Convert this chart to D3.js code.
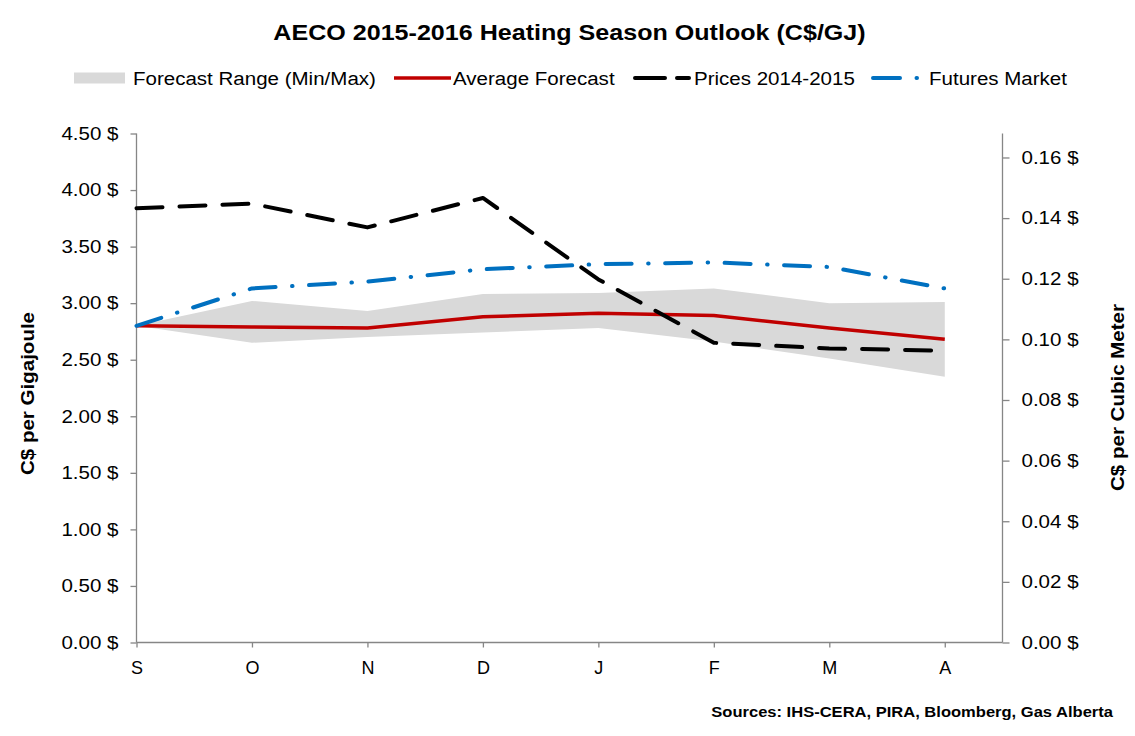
<!DOCTYPE html>
<html>
<head>
<meta charset="utf-8">
<script src="https://cdn.jsdelivr.net/npm/d3@7/dist/d3.min.js"></script>
<style>
  html, body { margin: 0; padding: 0; background: #fff; }
  svg { display: block; font-family: "Liberation Sans", Arial, sans-serif; }
</style>
</head>
<body>
<svg id="chart" width="1135" height="736"></svg>
<script>
// ---- data ----
const months = ["S", "O", "N", "D", "J", "F", "M", "A"];
const rangeMin = [2.80, 2.65, 2.70, 2.74, 2.78, 2.66, 2.51, 2.35];
const rangeMax = [2.80, 3.02, 2.93, 3.08, 3.09, 3.13, 3.00, 3.01];
const avgForecast = [2.80, 2.79, 2.78, 2.88, 2.91, 2.89, 2.78, 2.68];
const prices1415 = [3.84, 3.88, 3.67, 3.93, 3.21, 2.65, 2.60, 2.58];
const futures = [2.80, 3.13, 3.19, 3.30, 3.345, 3.36, 3.32, 3.13];
const leftTicks = [0, 0.5, 1, 1.5, 2, 2.5, 3, 3.5, 4, 4.5];
const rightTicks = [0, 0.02, 0.04, 0.06, 0.08, 0.10, 0.12, 0.14, 0.16];
const legendLabels = ["Forecast Range (Min/Max)", "Average Forecast", "Prices 2014-2015", "Futures Market"];
const titleText = "AECO 2015-2016 Heating Season Outlook (C$/GJ)";
const leftTitle = "C$ per Gigajoule";
const rightTitle = "C$ per Cubic Meter";
const sourceText = "Sources: IHS-CERA, PIRA, Bloomberg, Gas Alberta";

// ---- layout ----
const X0 = 136.5, X1 = 1002.5, Y0 = 642.5, Y1 = 133.5;
const STRETCH = 1.14;
const svg = d3.select("#chart");

function stretch(sel, k) {
  sel.each(function () {
    const L = this.getComputedTextLength();
    this.setAttribute("textLength", L * k);
    this.setAttribute("lengthAdjust", "spacingAndGlyphs");
  });
  return sel;
}

const x = d3.scaleLinear().domain([0, 7.5]).range([X0, X1]);
const y = d3.scaleLinear().domain([0, 4.5]).range([Y0, Y1]);
const y2 = d3.scaleLinear().domain([0, 4.5 / 26.8]).range([Y0, Y1]);

// band
const idx = months.map((m, i) => i);
svg.append("path")
  .datum(idx)
  .attr("fill", "#d9d9d9")
  .attr("d", d3.area().x(i => x(i)).y0(i => y(rangeMin[i])).y1(i => y(rangeMax[i])));

// axes
const axisColor = "#868686";
const gL = svg.append("g").attr("transform", `translate(${X0},0)`)
  .call(d3.axisLeft(y).tickValues(leftTicks).tickSize(6).tickPadding(12).tickFormat(v => d3.format(".2f")(v) + " $"));
const gR = svg.append("g").attr("transform", `translate(${X1},0)`)
  .call(d3.axisRight(y2).tickValues(rightTicks).tickSize(7).tickPadding(12).tickFormat(v => d3.format(".2f")(v) + " $"));
const gB = svg.append("g").attr("transform", `translate(0,${Y0})`)
  .call(d3.axisBottom(x).tickValues(idx).tickSize(5).tickPadding(14).tickFormat(i => months[i]));
[gL, gR, gB].forEach(g => {
  g.select(".domain").attr("stroke", axisColor).attr("stroke-width", 1.3);
  g.selectAll(".tick line").attr("stroke", axisColor).attr("stroke-width", 1.3);
  g.selectAll("text").attr("font-size", 18).attr("fill", "#000")
    .attr("font-family", '"Liberation Sans", Arial, sans-serif');
});
gL.select(".domain").attr("d", `M-6,${Y1}H0V${Y0}H-6`);
gL.select(".domain").attr("d", `M0,${Y1}V${Y0}`);
gR.select(".domain").attr("d", `M0,${Y1}V${Y0}`);
gB.select(".domain").attr("d", `M${X0},0H${X1}`);
stretch(gL.selectAll("text"), STRETCH);
stretch(gR.selectAll("text"), STRETCH);

// lines
const line = arr => d3.line().x(i => x(i)).y(i => y(arr[i]));
svg.append("path").datum(idx).attr("d", line(avgForecast))
  .attr("fill", "none").attr("stroke", "#c00000").attr("stroke-width", 3.5)
  .attr("stroke-linejoin", "round");
svg.append("path").datum(idx).attr("d", line(prices1415))
  .attr("fill", "none").attr("stroke", "#000").attr("stroke-width", 4)
  .attr("stroke-linejoin", "round").attr("stroke-linecap", "round")
  .attr("stroke-dasharray", "26,17");
svg.append("path").datum(idx).attr("d", line(futures))
  .attr("fill", "none").attr("stroke", "#0070c0").attr("stroke-width", 4)
  .attr("stroke-linejoin", "round").attr("stroke-linecap", "round")
  .attr("stroke-dasharray", "26,16.5,0.5,16.5");

// title
stretch(svg.append("text").attr("x", 569.5).attr("y", 40).attr("text-anchor", "middle")
  .attr("font-size", 22).attr("font-weight", "bold").text(titleText), STRETCH);

// axis titles
stretch(svg.append("text").attr("transform", "translate(34,393.5) rotate(-90)")
  .attr("text-anchor", "middle").attr("font-size", 18).attr("font-weight", "bold").text(leftTitle), STRETCH);
stretch(svg.append("text").attr("transform", "translate(1124,397.5) rotate(-90)")
  .attr("text-anchor", "middle").attr("font-size", 18).attr("font-weight", "bold").text(rightTitle), STRETCH);

// sources
stretch(svg.append("text").attr("x", 1113).attr("y", 717).attr("text-anchor", "end")
  .attr("font-size", 14.5).attr("font-weight", "bold").text(sourceText), STRETCH);

// legend
const LY = 78;
const lg = svg.append("g");
lg.append("rect").attr("x", 74).attr("y", LY - 5.5).attr("width", 51).attr("height", 11).attr("fill", "#d9d9d9");
lg.append("line").attr("x1", 394).attr("x2", 451).attr("y1", LY).attr("y2", LY)
  .attr("stroke", "#c00000").attr("stroke-width", 3.5);
lg.append("line").attr("x1", 635).attr("x2", 689).attr("y1", LY).attr("y2", LY)
  .attr("stroke", "#000").attr("stroke-width", 4).attr("stroke-linecap", "round").attr("stroke-dasharray", "30,12");
lg.append("line").attr("x1", 873).attr("x2", 919).attr("y1", LY).attr("y2", LY)
  .attr("stroke", "#0070c0").attr("stroke-width", 4).attr("stroke-linecap", "round").attr("stroke-dasharray", "27,16.5,0.5,16.5");
const legendX = [133, 453, 694, 929];
legendLabels.forEach((t, i) => {
  stretch(lg.append("text").attr("x", legendX[i]).attr("y", LY + 6.5).attr("font-size", 18).text(t), STRETCH);
});
</script>
</body>
</html>
